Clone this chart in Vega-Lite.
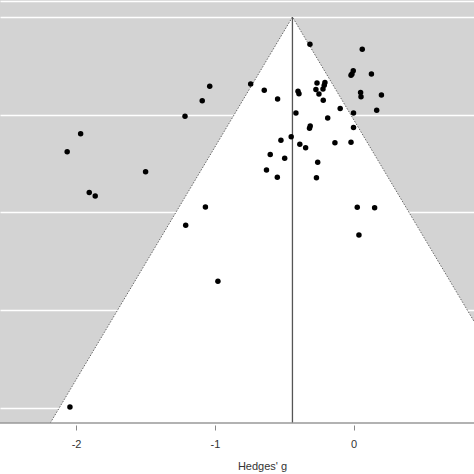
{
  "$schema": "https://vega.github.io/schema/vega-lite/v6.json",
  "width": 474,
  "height": 423,
  "autosize": {"type": "none"},
  "padding": {"top": 0, "left": 0, "right": 0, "bottom": 51},
  "background": "white",
  "config": {"view": {"stroke": null, "fill": "#d3d3d3"}},
  "datasets": {
    "funnel": [
      {"se": 0, "lo": -0.441, "hi": -0.441},
      {"se": 0.8311, "lo": -2.186, "hi": 1.304}
    ],
    "edges": [
      {"ex": -2.186, "ey": 0.8311, "o": 1},
      {"ex": -0.441, "ey": 0, "o": 2},
      {"ex": 1.304, "ey": 0.8311, "o": 3}
    ],
    "center": [{"g": -0.441, "se0": 0, "se1": 0.8311}],
    "bottom": [{"ybot": 0.8311}],
    "points": [
      {"g": -1.037, "se": 0.1419}, {"g": -1.091, "se": 0.1713}, {"g": -1.215, "se": 0.2033},
      {"g": -1.967, "se": 0.2389}, {"g": -2.064, "se": 0.2759}, {"g": -1.499, "se": 0.3167},
      {"g": -1.905, "se": 0.3593}, {"g": -1.862, "se": 0.3664}, {"g": -1.068, "se": 0.3889},
      {"g": -1.210, "se": 0.4262}, {"g": -0.978, "se": 0.5410}, {"g": -2.044, "se": 0.7983},
      {"g": -0.315, "se": 0.0559}, {"g": 0.062, "se": 0.0661}, {"g": -0.003, "se": 0.1099},
      {"g": -0.012, "se": 0.1167}, {"g": -0.019, "se": 0.1193}, {"g": 0.128, "se": 0.1167},
      {"g": -0.742, "se": 0.1371}, {"g": -0.644, "se": 0.1500}, {"g": -0.548, "se": 0.1679},
      {"g": -0.401, "se": 0.1521}, {"g": -0.394, "se": 0.1570}, {"g": -0.264, "se": 0.1351},
      {"g": -0.207, "se": 0.1341}, {"g": -0.212, "se": 0.1398}, {"g": -0.221, "se": 0.1474},
      {"g": -0.272, "se": 0.1484}, {"g": -0.250, "se": 0.1576}, {"g": -0.219, "se": 0.1703},
      {"g": 0.050, "se": 0.1546}, {"g": 0.053, "se": 0.1632}, {"g": 0.200, "se": 0.1597},
      {"g": -0.097, "se": 0.1873}, {"g": -0.001, "se": 0.1965}, {"g": 0.166, "se": 0.1910},
      {"g": -0.416, "se": 0.1965}, {"g": -0.187, "se": 0.2068}, {"g": -0.001, "se": 0.2262},
      {"g": -0.313, "se": 0.2231}, {"g": -0.318, "se": 0.2278}, {"g": -0.450, "se": 0.2450},
      {"g": -0.524, "se": 0.2522}, {"g": -0.388, "se": 0.2606}, {"g": -0.346, "se": 0.2678},
      {"g": -0.135, "se": 0.2575}, {"g": -0.019, "se": 0.2565}, {"g": -0.601, "se": 0.2815},
      {"g": -0.497, "se": 0.2893}, {"g": -0.259, "se": 0.2972}, {"g": -0.628, "se": 0.3132},
      {"g": -0.550, "se": 0.3281}, {"g": -0.268, "se": 0.3290}, {"g": 0.026, "se": 0.3896},
      {"g": 0.151, "se": 0.3904}, {"g": 0.038, "se": 0.4463}
    ]
  },
  "layer": [
    {
      "data": {"name": "funnel"},
      "mark": {"type": "area", "color": "white", "opacity": 1, "clip": true},
      "encoding": {
        "y": {
          "field": "se", "type": "quantitative",
          "scale": {"domain": [-0.0348, 0.8311], "reverse": true, "nice": false, "zero": false},
          "axis": {
            "values": [-0.032, 0, 0.2, 0.4, 0.6, 0.8],
            "grid": true, "gridColor": "white", "gridWidth": 1.5, "gridOpacity": 1,
            "labels": false, "ticks": false, "domain": false, "title": null
          }
        },
        "x": {
          "field": "lo", "type": "quantitative",
          "scale": {"domain": [-2.548, 0.867], "nice": false, "zero": false},
          "axis": {
            "values": [-2, -1, 0], "offset": 2, "domain": false, "grid": false,
            "tickSize": 5, "tickColor": "#888", "tickWidth": 1,
            "labelExpr": "toString(datum.value)",
            "labelFont": "Liberation Sans", "labelFontSize": 11, "labelColor": "#333", "labelPadding": 8,
            "title": "Hedges' g", "titleFont": "Liberation Sans", "titleFontSize": 11,
            "titleFontWeight": "normal", "titleColor": "#333",
            "titleX": 262, "titleY": 44, "titleBaseline": "alphabetic", "titleAlign": "center"
          }
        },
        "x2": {"field": "hi"}
      }
    },
    {
      "data": {"name": "edges"},
      "mark": {"type": "line", "color": "#666", "strokeWidth": 1, "strokeDash": [1.5, 1.5], "clip": true},
      "encoding": {
        "x": {"field": "ex", "type": "quantitative", "title": "Hedges' g"},
        "y": {"field": "ey", "type": "quantitative", "title": null},
        "order": {"field": "o"}
      }
    },
    {
      "data": {"name": "center"},
      "mark": {"type": "rule", "color": "#555", "strokeWidth": 1.3},
      "encoding": {
        "x": {"field": "g", "type": "quantitative", "title": "Hedges' g"},
        "y": {"field": "se0", "type": "quantitative", "title": null},
        "y2": {"field": "se1"}
      }
    },
    {
      "data": {"name": "bottom"},
      "mark": {"type": "rule", "color": "#999", "strokeWidth": 1.5},
      "encoding": {
        "y": {"field": "ybot", "type": "quantitative", "title": null}
      }
    },
    {
      "data": {"name": "points"},
      "mark": {"type": "circle", "color": "black", "opacity": 1, "size": 30},
      "encoding": {
        "x": {"field": "g", "type": "quantitative", "title": "Hedges' g"},
        "y": {"field": "se", "type": "quantitative", "title": null}
      }
    }
  ]
}
